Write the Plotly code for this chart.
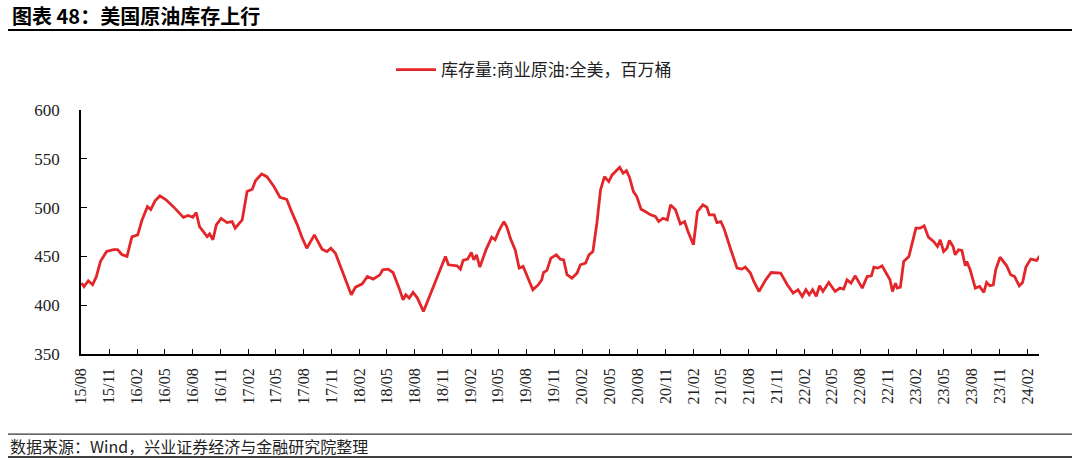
import plotly.graph_objects as go

# ---------------- data ----------------
dates = [
    "2015-08-03", "2015-08-11", "2015-08-25", "2015-09-08", "2015-09-20", "2015-10-04", "2015-10-24",
    "2015-11-16", "2015-11-29", "2015-12-13", "2015-12-30", "2016-01-15", "2016-02-03", "2016-02-17",
    "2016-03-06", "2016-03-17", "2016-03-31", "2016-04-16", "2016-05-06", "2016-05-30", "2016-07-02",
    "2016-07-18", "2016-08-02", "2016-08-13", "2016-08-24", "2016-09-18", "2016-09-26", "2016-10-07",
    "2016-10-18", "2016-11-03", "2016-11-22", "2016-12-09", "2016-12-19", "2017-01-11", "2017-01-27",
    "2017-02-13", "2017-02-24", "2017-03-16", "2017-04-02", "2017-04-24", "2017-05-15", "2017-06-06",
    "2017-06-22", "2017-07-11", "2017-07-25", "2017-08-11", "2017-09-05", "2017-09-30", "2017-10-16",
    "2017-10-29", "2017-11-13", "2017-12-10", "2018-01-04", "2018-01-18", "2018-02-09", "2018-02-26",
    "2018-03-17", "2018-04-08", "2018-04-17", "2018-05-05", "2018-05-21", "2018-06-10", "2018-06-23",
    "2018-07-02", "2018-07-13", "2018-07-26", "2018-08-09", "2018-08-29", "2018-09-15", "2018-10-06",
    "2018-10-23", "2018-11-09", "2018-11-19", "2018-12-17", "2018-12-28", "2019-01-06", "2019-01-21",
    "2019-02-02", "2019-02-10", "2019-02-19", "2019-03-02", "2019-03-22", "2019-04-10", "2019-04-21",
    "2019-05-05", "2019-05-20", "2019-05-29", "2019-06-11", "2019-06-26", "2019-07-09", "2019-07-22",
    "2019-08-08", "2019-08-23", "2019-09-10", "2019-09-21", "2019-09-27", "2019-10-08", "2019-10-21",
    "2019-11-08", "2019-11-21", "2019-12-02", "2019-12-13", "2019-12-29", "2020-01-15", "2020-01-26",
    "2020-02-12", "2020-02-23", "2020-03-07", "2020-03-20", "2020-04-01", "2020-04-14", "2020-04-28",
    "2020-05-09", "2020-05-25", "2020-06-03", "2020-06-14", "2020-06-25", "2020-07-05", "2020-07-18",
    "2020-07-29", "2020-08-12", "2020-08-26", "2020-09-12", "2020-09-28", "2020-10-09", "2020-10-23",
    "2020-11-06", "2020-11-17", "2020-12-03", "2020-12-19", "2021-01-02", "2021-01-13", "2021-01-31",
    "2021-02-13", "2021-03-03", "2021-03-16", "2021-03-24", "2021-04-09", "2021-04-18", "2021-05-01",
    "2021-05-12", "2021-06-01", "2021-06-23", "2021-07-09", "2021-07-20", "2021-08-06", "2021-08-17",
    "2021-09-03", "2021-09-25", "2021-10-13", "2021-11-13", "2021-12-05", "2021-12-24", "2022-01-09",
    "2022-01-23", "2022-02-04", "2022-02-15", "2022-02-26", "2022-03-10", "2022-03-21", "2022-04-01",
    "2022-04-20", "2022-05-11", "2022-05-27", "2022-06-08", "2022-06-19", "2022-07-02", "2022-07-16",
    "2022-08-08", "2022-08-24", "2022-09-07", "2022-09-15", "2022-09-28", "2022-10-12", "2022-10-23",
    "2022-11-07", "2022-11-15", "2022-11-25", "2022-12-01", "2022-12-11", "2022-12-22", "2023-01-08",
    "2023-01-31", "2023-02-14", "2023-02-27", "2023-03-13", "2023-03-30", "2023-04-12", "2023-04-21",
    "2023-05-02", "2023-05-13", "2023-05-21", "2023-06-02", "2023-06-09", "2023-06-20", "2023-07-01",
    "2023-07-12", "2023-07-17", "2023-07-28", "2023-08-14", "2023-08-28", "2023-09-11", "2023-09-20",
    "2023-10-01", "2023-10-12", "2023-10-20", "2023-11-03", "2023-11-16", "2023-11-25", "2023-12-08",
    "2023-12-21", "2024-01-05", "2024-01-16", "2024-01-27", "2024-02-12", "2024-02-23", "2024-03-02",
    "2024-03-13",
]
stocks = [
    422.6, 419.0, 425.0, 421.0, 429.0, 445.0, 455.0,
    457.0, 457.0, 452.0, 450.0, 470.0, 472.0, 487.0,
    501.0, 498.0, 507.0, 512.0, 508.0, 501.0, 490.0,
    492.0, 490.0, 495.0, 480.6, 470.3, 473.0, 467.0,
    482.3, 489.0, 484.7, 485.7, 478.9, 487.4, 516.4,
    518.8, 527.7, 534.5, 531.7, 522.2, 510.6, 508.5,
    495.9, 482.3, 470.3, 458.4, 472.1, 457.4, 455.0,
    458.4, 453.3, 431.1, 410.7, 418.5, 421.9, 429.4,
    426.7, 431.1, 436.2, 436.9, 433.5, 417.5, 405.6,
    410.7, 407.3, 413.1, 407.3, 393.6, 407.3, 424.3,
    436.3, 450.0, 441.4, 440.4, 437.0, 445.8, 447.2,
    454.0, 446.5, 451.6, 439.0, 456.7, 469.7, 467.0,
    477.2, 485.7, 480.6, 467.7, 456.7, 438.0, 439.7,
    426.1, 415.8, 421.0, 426.0, 433.5, 435.6, 448.2,
    451.6, 447.2, 446.5, 431.2, 427.7, 432.9, 441.4,
    443.1, 451.6, 455.0, 484.0, 518.1, 531.8, 526.7,
    533.5, 538.6, 541.3, 535.2, 537.9, 531.1, 516.4,
    511.3, 498.4, 496.0, 492.6, 490.9, 485.7, 489.1,
    487.4, 502.8, 497.7, 483.3, 485.7, 475.5, 461.9,
    496.0, 502.8, 500.4, 492.6, 492.6, 484.7, 485.7,
    477.9, 458.4, 438.0, 437.0, 439.0, 432.9, 424.3,
    414.1, 426.0, 433.5, 432.9, 420.9, 412.4, 415.8,
    409.0, 415.8, 410.7, 415.8, 409.0, 419.9, 414.1,
    423.3, 414.1, 417.5, 416.5, 426.0, 422.6, 430.1,
    417.5, 429.4, 430.1, 439.0, 438.0, 440.4, 434.6,
    426.0, 414.1, 422.6, 417.5, 418.5, 444.8, 449.9,
    478.9, 478.9, 481.3, 469.7, 465.3, 460.1, 467.0,
    455.0, 458.4, 466.3, 460.1, 451.6, 456.7, 456.1,
    440.4, 444.8, 436.3, 417.5, 419.2, 413.1, 423.3,
    419.9, 420.9, 436.3, 449.2, 443.8, 440.4, 431.2,
    429.4, 419.9, 423.3, 439.0, 447.2, 446.5, 445.8,
    450.6,
]
tick_dates = [
    "2015-08-01", "2015-11-01", "2016-02-01", "2016-05-01", "2016-08-01", "2016-11-01",
    "2017-02-01", "2017-05-01", "2017-08-01", "2017-11-01", "2018-02-01", "2018-05-01",
    "2018-08-01", "2018-11-01", "2019-02-01", "2019-05-01", "2019-08-01", "2019-11-01",
    "2020-02-01", "2020-05-01", "2020-08-01", "2020-11-01", "2021-02-01", "2021-05-01",
    "2021-08-01", "2021-11-01", "2022-02-01", "2022-05-01", "2022-08-01", "2022-11-01",
    "2023-02-01", "2023-05-01", "2023-08-01", "2023-11-01", "2024-02-01",
]
tick_labels = [
    "15/08", "15/11", "16/02", "16/05", "16/08", "16/11",
    "17/02", "17/05", "17/08", "17/11", "18/02", "18/05",
    "18/08", "18/11", "19/02", "19/05", "19/08", "19/11",
    "20/02", "20/05", "20/08", "20/11", "21/02", "21/05",
    "21/08", "21/11", "22/02", "22/05", "22/08", "22/11",
    "23/02", "23/05", "23/08", "23/11", "24/02",
]
series_name = "库存量:商业原油:全美，百万桶"
title_text = "图表 48：美国原油库存上行"
source_text = "数据来源：Wind，兴业证券经济与金融研究院整理"

# ---------------- layout constants (pixels) ----------------
W, H = 1080, 461
L, R, T, B = 81, 1039, 110, 354.3
CJK = "Noto Sans CJK SC"
SERIF = "Liberation Serif"


def px_x(x):
    return (x - L) / (R - L)


def px_y(y):
    return (B - y) / (B - T)


fig = go.Figure()
fig.add_trace(go.Scatter(
    x=dates, y=stocks, mode="lines", name=series_name,
    line=dict(color="#E3262A", width=2.8),
))

fig.update_layout(
    width=W, height=H,
    margin=dict(l=L, r=W - R, t=T, b=H - B, pad=0, autoexpand=False),
    paper_bgcolor="white", plot_bgcolor="white",
    showlegend=True,
    legend=dict(
        orientation="h", x=px_x(391), y=px_y(70), xanchor="left", yanchor="middle",
        font=dict(family=CJK, size=17, color="#222"),
        bgcolor="rgba(0,0,0,0)", itemwidth=40,
    ),
    xaxis=dict(
        type="date", range=["2015-08-01", "2024-03-10"],
        tickmode="array", tickvals=tick_dates, ticktext=tick_labels,
        tickangle=-90, ticks="inside", ticklen=5, tickcolor="black", tickwidth=1,
        showline=True, linecolor="black", linewidth=1.5, mirror=False,
        showgrid=False, zeroline=False,
        tickfont=dict(family=SERIF, size=16, color="#222"),
        ticklabelstandoff=6,
    ),
    yaxis=dict(
        range=[350, 600], tickmode="array", tickvals=[350, 400, 450, 500, 550, 600],
        ticks="inside", ticklen=6, tickcolor="black", tickwidth=1,
        showline=True, linecolor="black", linewidth=1.5,
        showgrid=False, zeroline=False,
        tickfont=dict(family=SERIF, size=17, color="#222"),
        ticklabelstandoff=16,
    ),
    shapes=[
        dict(type="line", xref="paper", yref="paper", x0=px_x(8), x1=px_x(1072),
             y0=px_y(30), y1=px_y(30), line=dict(color="black", width=2)),
        dict(type="line", xref="paper", yref="paper", x0=px_x(8), x1=px_x(1072),
             y0=px_y(434.5), y1=px_y(434.5), line=dict(color="black", width=1)),
        dict(type="line", xref="paper", yref="paper", x0=px_x(8), x1=px_x(1072),
             y0=px_y(457.5), y1=px_y(457.5), line=dict(color="black", width=1.5)),
    ],
    annotations=[
        dict(text="<b>" + title_text + "</b>", xref="paper", yref="paper",
             x=px_x(10), y=px_y(15), xanchor="left", yanchor="middle", showarrow=False,
             font=dict(family=CJK, size=20, color="black")),
        dict(text=source_text, xref="paper", yref="paper",
             x=px_x(8), y=px_y(446), xanchor="left", yanchor="middle", showarrow=False,
             font=dict(family=CJK, size=16, color="#222")),
    ],
)

fig.write_html(
    "out.html",
    config={"displayModeBar": False},
    post_script="document.body.style.margin='0';document.body.style.overflow='hidden';",
)
